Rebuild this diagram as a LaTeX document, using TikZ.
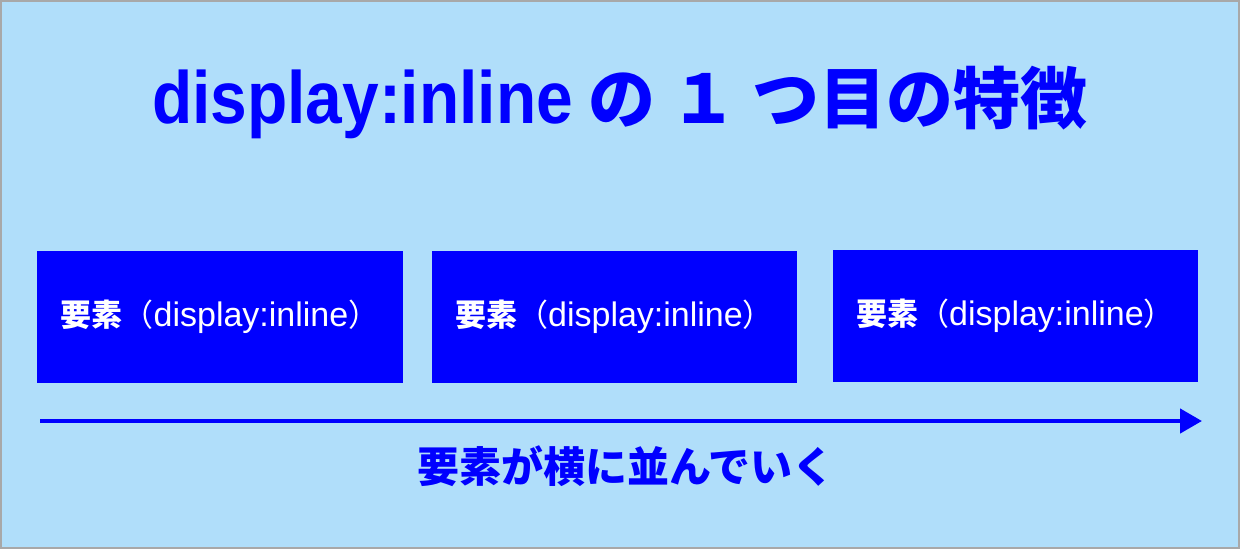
\documentclass[tikz,border=0pt]{standalone}
\usepackage{fontspec}
\usetikzlibrary{arrows.meta}
\newfontfamily\jp{Noto Sans CJK JP}
\newfontfamily\lat{Liberation Sans}
\newfontfamily\latT[FakeStretch=0.89]{Liberation Sans}
\definecolor{bgblue}{HTML}{B0DEFA}
\definecolor{frame}{HTML}{A8A8A8}
\definecolor{pureblue}{HTML}{0000FF}
\tikzset{
  elbox/.style={fill=pureblue, draw=none, inner sep=0pt, text=white},
  ttl/.style={text=pureblue, inner sep=0pt, anchor=base},
  lbl/.style={text=pureblue, inner sep=0pt},
  flow/.style={draw=pureblue, line width=4.5pt, -{Triangle[length=22pt,width=24pt]}},
}
\newcommand{\eltext}{\raisebox{-2pt}{{\jp\bfseries\fontsize{31}{34}\selectfont 要素}{\jp\fontsize{31}{34}\selectfont （}{\lat\fontsize{34}{36}\selectfont display:inline}{\jp\fontsize{31}{34}\selectfont ）}}}
\begin{document}
\begin{tikzpicture}[x=1pt,y=-1pt]
\useasboundingbox (0,0) rectangle (1240,549);
\draw[fill=bgblue, draw=frame, line width=2pt] (1,1) rectangle (1239,548);
\node[ttl] (title) at (620,123) {{\latT\bfseries\fontsize{74}{80}\selectfont display:inline}{\jp\bfseries\fontsize{67}{72}\selectfont\ の １ つ目の特徴}};
\node[elbox, minimum width=366pt, minimum height=132pt] (b1) at (220,317) {\eltext};
\node[elbox, minimum width=365pt, minimum height=132pt] (b2) at (614.5,317) {\eltext};
\node[elbox, minimum width=365pt, minimum height=132pt] (b3) at (1015.5,316) {\eltext};
\coordinate (as) at (40,421);
\coordinate (ae) at (1202,421);
\draw[flow] (as) -- (ae);
\node[lbl] (cap) at (626,466) {\jp\bfseries\fontsize{42}{45}\selectfont 要素が横に並んでいく};
\end{tikzpicture}
\end{document}
